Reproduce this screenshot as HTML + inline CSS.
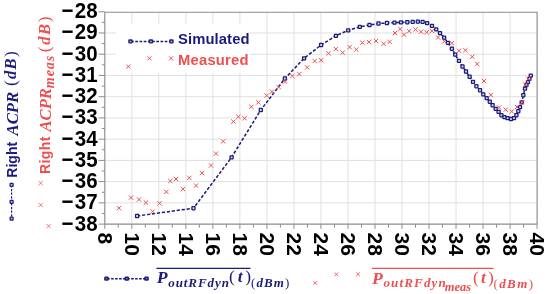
<!DOCTYPE html>
<html><head><meta charset="utf-8"><style>
html,body{margin:0;padding:0;background:#fff;width:550px;height:294px;overflow:hidden}
svg{display:block}
</style></head><body>
<svg width="550" height="294" viewBox="0 0 550 294">
<rect width="550" height="294" fill="#fff"/>
<path d="M131.82 12.2V224.10M158.84 12.2V224.10M185.86 12.2V224.10M212.88 12.2V224.10M239.89 12.2V224.10M266.91 12.2V224.10M293.93 12.2V224.10M320.95 12.2V224.10M347.97 12.2V224.10M374.99 12.2V224.10M402.01 12.2V224.10M429.03 12.2V224.10M456.04 12.2V224.10M483.06 12.2V224.10M510.08 12.2V224.10M104.80 32.98H537.10M104.80 54.22H537.10M104.80 75.45H537.10M104.80 96.69H537.10M104.80 117.92H537.10M104.80 139.16H537.10M104.80 160.40H537.10M104.80 181.63H537.10M104.80 202.86H537.10" stroke="#e0e0e0" stroke-width="1" fill="none"/>
<path d="M104.80 224.10v4.8M118.31 224.10v3.5M131.82 224.10v4.8M145.33 224.10v3.5M158.84 224.10v4.8M172.35 224.10v3.5M185.86 224.10v4.8M199.37 224.10v3.5M212.88 224.10v4.8M226.38 224.10v3.5M239.89 224.10v4.8M253.40 224.10v3.5M266.91 224.10v4.8M280.42 224.10v3.5M293.93 224.10v4.8M307.44 224.10v3.5M320.95 224.10v4.8M334.46 224.10v3.5M347.97 224.10v4.8M361.48 224.10v3.5M374.99 224.10v4.8M388.50 224.10v3.5M402.01 224.10v4.8M415.52 224.10v3.5M429.03 224.10v4.8M442.53 224.10v3.5M456.04 224.10v4.8M469.55 224.10v3.5M483.06 224.10v4.8M496.57 224.10v3.5M510.08 224.10v4.8M523.59 224.10v3.5M537.10 224.10v4.8M104.80 11.75h-6.2M104.80 22.37h-3M104.80 32.98h-6.2M104.80 43.60h-3M104.80 54.22h-6.2M104.80 64.84h-3M104.80 75.45h-6.2M104.80 86.07h-3M104.80 96.69h-6.2M104.80 107.31h-3M104.80 117.92h-6.2M104.80 128.54h-3M104.80 139.16h-6.2M104.80 149.78h-3M104.80 160.40h-6.2M104.80 171.01h-3M104.80 181.63h-6.2M104.80 192.25h-3M104.80 202.86h-6.2M104.80 213.48h-3M104.80 224.10h-6.2" stroke="#8c8c8c" stroke-width="1" fill="none"/>
<path d="M104.80 12.20H537.10V224.10" stroke="#8c8c8c" stroke-width="1.15" fill="none"/>
<path d="M104.80 12.20V224.10H537.10" stroke="#8c8c8c" stroke-width="1.15" fill="none"/>
<g font-family="Liberation Sans, Arial, sans-serif" font-weight="bold" font-size="20.5" fill="#000">
<text transform="translate(61.5 18.25) scale(1 1.1)">−<tspan dx="1.4">28</tspan></text>
<text transform="translate(61.5 39.48) scale(1 1.1)">−<tspan dx="1.4">29</tspan></text>
<text transform="translate(61.5 60.72) scale(1 1.1)">−<tspan dx="1.4">30</tspan></text>
<text transform="translate(61.5 81.95) scale(1 1.1)">−<tspan dx="1.4">31</tspan></text>
<text transform="translate(61.5 103.19) scale(1 1.1)">−<tspan dx="1.4">32</tspan></text>
<text transform="translate(61.5 124.42) scale(1 1.1)">−<tspan dx="1.4">33</tspan></text>
<text transform="translate(61.5 145.66) scale(1 1.1)">−<tspan dx="1.4">34</tspan></text>
<text transform="translate(61.5 166.90) scale(1 1.1)">−<tspan dx="1.4">35</tspan></text>
<text transform="translate(61.5 188.13) scale(1 1.1)">−<tspan dx="1.4">36</tspan></text>
<text transform="translate(61.5 209.36) scale(1 1.1)">−<tspan dx="1.4">37</tspan></text>
<text transform="translate(61.5 230.60) scale(1 1.1)">−<tspan dx="1.4">38</tspan></text>
</g>
<g font-family="Liberation Sans, Arial, sans-serif" font-weight="bold" font-size="21" fill="#000">
<text transform="translate(97.97 232.6) rotate(90)">8</text>
<text transform="translate(124.99 232.6) rotate(90)">10</text>
<text transform="translate(152.01 232.6) rotate(90)">12</text>
<text transform="translate(179.03 232.6) rotate(90)">14</text>
<text transform="translate(206.05 232.6) rotate(90)">16</text>
<text transform="translate(233.06 232.6) rotate(90)">18</text>
<text transform="translate(260.08 232.6) rotate(90)">20</text>
<text transform="translate(287.10 232.6) rotate(90)">22</text>
<text transform="translate(314.12 232.6) rotate(90)">24</text>
<text transform="translate(341.14 232.6) rotate(90)">26</text>
<text transform="translate(368.16 232.6) rotate(90)">28</text>
<text transform="translate(395.18 232.6) rotate(90)">30</text>
<text transform="translate(422.19 232.6) rotate(90)">32</text>
<text transform="translate(449.21 232.6) rotate(90)">34</text>
<text transform="translate(476.23 232.6) rotate(90)">36</text>
<text transform="translate(503.25 232.6) rotate(90)">38</text>
<text transform="translate(530.27 232.6) rotate(90)">40</text>
</g>
<polyline points="137.1,216.0 193.5,208.2 231.6,157.3 260.8,110.0 284.9,78.5 304.1,58.3 321.1,45.0 335.9,35.8 348.2,30.3 359.8,26.9 369.5,25.0 378.5,23.5 386.9,23.0 394.5,22.6 401.0,22.4 407.3,22.2 412.7,21.9 417.8,21.6 422.6,21.8 427.1,23.1 432.0,25.9 436.2,29.4 440.0,33.1 444.1,37.6 447.9,42.9 451.9,48.7 455.2,54.6 459.0,60.8 462.5,66.5 466.0,71.5 469.6,76.7 473.0,81.9 476.4,86.2 480.0,90.2 483.3,94.3 486.7,98.1 489.8,101.7 492.6,105.2 495.7,108.8 498.6,111.9 501.4,115.2 504.5,117.1 507.6,118.1 511.0,119.0 514.0,118.1 516.4,115.2 518.3,111.2 520.0,107.1 521.7,102.4 523.3,95.2 525.0,88.6 526.4,85.0 527.9,82.1 529.4,78.8 530.8,75.6" fill="none" stroke="#1b1b7c" stroke-width="1.5" stroke-dasharray="3.2 1.8"/>
<g fill="#d4d4ec" stroke="#1b1b7c" stroke-width="1.25">
<rect x="135.55" y="214.45" width="3.1" height="3.1" rx="0.4"/>
<rect x="191.95" y="206.65" width="3.1" height="3.1" rx="0.4"/>
<rect x="230.05" y="155.75" width="3.1" height="3.1" rx="0.4"/>
<rect x="259.25" y="108.45" width="3.1" height="3.1" rx="0.4"/>
<rect x="283.35" y="76.95" width="3.1" height="3.1" rx="0.4"/>
<rect x="302.55" y="56.75" width="3.1" height="3.1" rx="0.4"/>
<rect x="319.55" y="43.45" width="3.1" height="3.1" rx="0.4"/>
<rect x="334.35" y="34.25" width="3.1" height="3.1" rx="0.4"/>
<rect x="346.65" y="28.75" width="3.1" height="3.1" rx="0.4"/>
<rect x="358.25" y="25.35" width="3.1" height="3.1" rx="0.4"/>
<rect x="367.95" y="23.45" width="3.1" height="3.1" rx="0.4"/>
<rect x="376.95" y="21.95" width="3.1" height="3.1" rx="0.4"/>
<rect x="385.35" y="21.45" width="3.1" height="3.1" rx="0.4"/>
<rect x="392.95" y="21.05" width="3.1" height="3.1" rx="0.4"/>
<rect x="399.45" y="20.85" width="3.1" height="3.1" rx="0.4"/>
<rect x="405.75" y="20.65" width="3.1" height="3.1" rx="0.4"/>
<rect x="411.15" y="20.35" width="3.1" height="3.1" rx="0.4"/>
<rect x="416.25" y="20.05" width="3.1" height="3.1" rx="0.4"/>
<rect x="421.05" y="20.25" width="3.1" height="3.1" rx="0.4"/>
<rect x="425.55" y="21.55" width="3.1" height="3.1" rx="0.4"/>
<rect x="430.45" y="24.35" width="3.1" height="3.1" rx="0.4"/>
<rect x="434.65" y="27.85" width="3.1" height="3.1" rx="0.4"/>
<rect x="438.45" y="31.55" width="3.1" height="3.1" rx="0.4"/>
<rect x="442.55" y="36.05" width="3.1" height="3.1" rx="0.4"/>
<rect x="446.35" y="41.35" width="3.1" height="3.1" rx="0.4"/>
<rect x="450.35" y="47.15" width="3.1" height="3.1" rx="0.4"/>
<rect x="453.65" y="53.05" width="3.1" height="3.1" rx="0.4"/>
<rect x="457.45" y="59.25" width="3.1" height="3.1" rx="0.4"/>
<rect x="460.95" y="64.95" width="3.1" height="3.1" rx="0.4"/>
<rect x="464.45" y="69.95" width="3.1" height="3.1" rx="0.4"/>
<rect x="468.05" y="75.15" width="3.1" height="3.1" rx="0.4"/>
<rect x="471.45" y="80.35" width="3.1" height="3.1" rx="0.4"/>
<rect x="474.85" y="84.65" width="3.1" height="3.1" rx="0.4"/>
<rect x="478.45" y="88.65" width="3.1" height="3.1" rx="0.4"/>
<rect x="481.75" y="92.75" width="3.1" height="3.1" rx="0.4"/>
<rect x="485.15" y="96.55" width="3.1" height="3.1" rx="0.4"/>
<rect x="488.25" y="100.15" width="3.1" height="3.1" rx="0.4"/>
<rect x="491.05" y="103.65" width="3.1" height="3.1" rx="0.4"/>
<rect x="494.15" y="107.25" width="3.1" height="3.1" rx="0.4"/>
<rect x="497.05" y="110.35" width="3.1" height="3.1" rx="0.4"/>
<rect x="499.85" y="113.65" width="3.1" height="3.1" rx="0.4"/>
<rect x="502.95" y="115.55" width="3.1" height="3.1" rx="0.4"/>
<rect x="506.05" y="116.55" width="3.1" height="3.1" rx="0.4"/>
<rect x="509.45" y="117.45" width="3.1" height="3.1" rx="0.4"/>
<rect x="512.45" y="116.55" width="3.1" height="3.1" rx="0.4"/>
<rect x="514.85" y="113.65" width="3.1" height="3.1" rx="0.4"/>
<rect x="516.75" y="109.65" width="3.1" height="3.1" rx="0.4"/>
<rect x="518.45" y="105.55" width="3.1" height="3.1" rx="0.4"/>
<rect x="520.15" y="100.85" width="3.1" height="3.1" rx="0.4"/>
<rect x="521.75" y="93.65" width="3.1" height="3.1" rx="0.4"/>
<rect x="523.45" y="87.05" width="3.1" height="3.1" rx="0.4"/>
<rect x="524.85" y="83.45" width="3.1" height="3.1" rx="0.4"/>
<rect x="526.35" y="80.55" width="3.1" height="3.1" rx="0.4"/>
<rect x="527.85" y="77.25" width="3.1" height="3.1" rx="0.4"/>
<rect x="529.25" y="74.05" width="3.1" height="3.1" rx="0.4"/>
</g>
<path d="M116.8 206.0l4.3 4.3M116.8 210.3l4.3 -4.3M128.8 195.5l4.3 4.3M128.8 199.8l4.3 -4.3M136.8 197.3l4.3 4.3M136.8 201.7l4.3 -4.3M143.7 200.4l4.3 4.3M143.7 204.8l4.3 -4.3M150.5 209.3l4.3 4.3M150.5 213.7l4.3 -4.3M157.4 201.2l4.3 4.3M157.4 205.5l4.3 -4.3M164.2 189.7l4.3 4.3M164.2 194.0l4.3 -4.3M168.2 178.8l4.3 4.3M168.2 183.1l4.3 -4.3M173.8 176.8l4.3 4.3M173.8 181.2l4.3 -4.3M180.7 186.8l4.3 4.3M180.7 191.2l4.3 -4.3M187.2 175.7l4.3 4.3M187.2 180.0l4.3 -4.3M193.9 183.4l4.3 4.3M193.9 187.8l4.3 -4.3M199.8 170.9l4.3 4.3M199.8 175.2l4.3 -4.3M208.8 163.3l4.3 4.3M208.8 167.7l4.3 -4.3M213.8 151.5l4.3 4.3M213.8 155.8l4.3 -4.3M221.0 139.2l4.3 4.3M221.0 143.6l4.3 -4.3M231.2 119.4l4.3 4.3M231.2 123.8l4.3 -4.3M236.2 114.5l4.3 4.3M236.2 118.9l4.3 -4.3M242.4 116.1l4.3 4.3M242.4 120.5l4.3 -4.3M249.2 104.6l4.3 4.3M249.2 109.0l4.3 -4.3M256.1 100.2l4.3 4.3M256.1 104.6l4.3 -4.3M264.5 93.4l4.3 4.3M264.5 97.8l4.3 -4.3M269.8 89.5l4.3 4.3M269.8 93.9l4.3 -4.3M276.5 84.9l4.3 4.3M276.5 89.2l4.3 -4.3M282.9 79.4l4.3 4.3M282.9 83.8l4.3 -4.3M290.2 73.9l4.3 4.3M290.2 78.2l4.3 -4.3M297.1 71.8l4.3 4.3M297.1 76.2l4.3 -4.3M305.0 65.2l4.3 4.3M305.0 69.6l4.3 -4.3M312.6 58.9l4.3 4.3M312.6 63.1l4.3 -4.3M319.0 58.1l4.3 4.3M319.0 62.4l4.3 -4.3M326.4 51.2l4.3 4.3M326.4 55.5l4.3 -4.3M333.8 46.9l4.3 4.3M333.8 51.1l4.3 -4.3M340.5 50.5l4.3 4.3M340.5 54.8l4.3 -4.3M347.5 45.0l4.3 4.3M347.5 49.2l4.3 -4.3M354.2 47.4l4.3 4.3M354.2 51.6l4.3 -4.3M360.2 40.6l4.3 4.3M360.2 44.9l4.3 -4.3M366.8 39.9l4.3 4.3M366.8 44.1l4.3 -4.3M373.9 38.9l4.3 4.3M373.9 43.1l4.3 -4.3M381.5 41.6l4.3 4.3M381.5 45.9l4.3 -4.3M387.5 39.8l4.3 4.3M387.5 44.0l4.3 -4.3M392.9 30.9l4.3 4.3M392.9 35.1l4.3 -4.3M398.2 26.9l4.3 4.3M398.2 31.1l4.3 -4.3M401.9 32.5l4.3 4.3M401.9 36.8l4.3 -4.3M407.1 29.0l4.3 4.3M407.1 33.2l4.3 -4.3M413.4 27.4l4.3 4.3M413.4 31.6l4.3 -4.3M418.9 29.6l4.3 4.3M418.9 33.9l4.3 -4.3M424.5 30.1l4.3 4.3M424.5 34.4l4.3 -4.3M429.9 28.8l4.3 4.3M429.9 33.0l4.3 -4.3M436.0 35.4l4.3 4.3M436.0 39.6l4.3 -4.3M442.1 39.2l4.3 4.3M442.1 43.5l4.3 -4.3M449.7 41.1l4.3 4.3M449.7 45.4l4.3 -4.3M456.9 48.6l4.3 4.3M456.9 52.9l4.3 -4.3M463.2 48.1l4.3 4.3M463.2 52.4l4.3 -4.3M470.1 54.6l4.3 4.3M470.1 58.9l4.3 -4.3M475.1 61.9l4.3 4.3M475.1 66.2l4.3 -4.3M481.8 78.8l4.3 4.3M481.8 83.2l4.3 -4.3M488.6 92.8l4.3 4.3M488.6 97.2l4.3 -4.3M496.9 105.3l4.3 4.3M496.9 109.7l4.3 -4.3M503.5 107.5l4.3 4.3M503.5 111.9l4.3 -4.3M509.6 109.2l4.3 4.3M509.6 113.6l4.3 -4.3M514.8 104.9l4.3 4.3M514.8 109.2l4.3 -4.3M520.1 100.0l4.3 4.3M520.1 104.4l4.3 -4.3M523.1 82.3l4.3 4.3M523.1 86.7l4.3 -4.3M526.1 76.5l4.3 4.3M526.1 80.9l4.3 -4.3" stroke="#ef4f4f" stroke-width="1.0" fill="none"/>
<rect x="116" y="24" width="134" height="49" fill="#fff"/>
<path d="M130.5 41.4H171.4" stroke="#1b1b7c" stroke-width="1.5" stroke-dasharray="2.7 1.5" stroke-dashoffset="-0.6"/>
<g fill="#a8a8d4" stroke="#1b1b7c" stroke-width="1.35">
<rect x="128.9" y="40.0" width="3.2" height="2.8" rx="0.6"/>
<rect x="149.3" y="40.0" width="3.2" height="2.8" rx="0.6"/>
<rect x="169.8" y="40.0" width="3.2" height="2.8" rx="0.6"/>
</g>
<path d="M126.3 64.5l4.0 4.0M126.3 68.5l4.0 -4.0M147.5 56.3l4.0 4.0M147.5 60.3l4.0 -4.0M169.1 56.3l4.0 4.0M169.1 60.3l4.0 -4.0" stroke="#ef4f4f" stroke-width="1" fill="none"/>
<text transform="translate(17.25 177.80) rotate(-90)" font-family="Liberation Sans, Arial, sans-serif" font-weight="bold" font-size="14" fill="#1b1b7c" textLength="36.10" lengthAdjust="spacing">Right</text>
<text transform="translate(18.30 135.50) rotate(-90)" font-family="Liberation Serif, Times New Roman, serif" font-weight="bold" font-style="italic" font-size="17.2" fill="#1b1b7c" textLength="43.70" lengthAdjust="spacingAndGlyphs">ACPR</text>
<text transform="translate(16.05 86.10) rotate(-90)" font-family="Liberation Serif, Times New Roman, serif" font-weight="bold" font-style="italic" font-size="16.5" fill="#1b1b7c" textLength="34.90" lengthAdjust="spacing"><tspan font-size="17.5" font-style="normal" font-weight="normal">(</tspan>dB<tspan font-size="17.5" font-style="normal" font-weight="normal">)</tspan></text>
<text transform="translate(49.85 174.10) rotate(-90)" font-family="Liberation Sans, Arial, sans-serif" font-weight="bold" font-size="14" fill="#ef4f4f" textLength="37.50" lengthAdjust="spacing">Right</text>
<text transform="translate(50.60 131.50) rotate(-90)" font-family="Liberation Serif, Times New Roman, serif" font-weight="bold" font-style="italic" font-size="17.2" fill="#ef4f4f" textLength="43.40" lengthAdjust="spacingAndGlyphs">ACPR</text>
<text transform="translate(53.95 88.20) rotate(-90)" font-family="Liberation Serif, Times New Roman, serif" font-weight="bold" font-style="italic" font-size="14" fill="#ef4f4f" textLength="32.50" lengthAdjust="spacing">meas</text>
<text transform="translate(49.70 52.30) rotate(-90)" font-family="Liberation Serif, Times New Roman, serif" font-weight="bold" font-style="italic" font-size="16.5" fill="#ef4f4f" textLength="35.90" lengthAdjust="spacing"><tspan font-size="17.5" font-style="normal" font-weight="normal">(</tspan>dB<tspan font-size="17.5" font-style="normal" font-weight="normal">)</tspan></text>
<path d="M11.6 184.8V218.7" stroke="#1b1b7c" stroke-width="1.2" stroke-dasharray="2.2 1.4" stroke-dashoffset="-0.6"/>
<g fill="#b8b8dc" stroke="#1b1b7c" stroke-width="1.25">
<rect x="10.1" y="183.3" width="3.0" height="3.0" rx="0.6"/>
<rect x="10.1" y="200.4" width="3.0" height="3.0" rx="0.6"/>
<rect x="10.1" y="217.2" width="3.0" height="3.0" rx="0.6"/>
</g>
<path d="M38.6 181.0l4.2 4.2M38.6 185.2l4.2 -4.2M38.6 202.9l4.2 4.2M38.6 207.1l4.2 -4.2M46.5 224.0l4.2 4.2M46.5 228.2l4.2 -4.2" stroke="#ef4f4f" stroke-width="0.9" fill="none" opacity="0.85"/>
<path d="M106.5 278.7H146.5" stroke="#1b1b7c" stroke-width="1.5" stroke-dasharray="2.6 1.4" stroke-dashoffset="-0.6"/>
<g fill="#7878b4" stroke="#1b1b7c" stroke-width="1.5">
<rect x="104.9" y="277.3" width="3.2" height="2.8" rx="0.6"/>
<rect x="125.2" y="277.3" width="3.2" height="2.8" rx="0.6"/>
<rect x="144.9" y="277.3" width="3.2" height="2.8" rx="0.6"/>
</g>
<path d="M156.4 268.3H250.5" stroke="#1b1b7c" stroke-width="1.2"/>
<text x="178.00" y="44.05" font-family="Liberation Sans, Arial, sans-serif" font-weight="bold" font-size="14.8" fill="#1b1b7c" textLength="71.50" lengthAdjust="spacing">Simulated</text>
<text x="178.00" y="64.90" font-family="Liberation Sans, Arial, sans-serif" font-weight="bold" font-size="14.8" fill="#ef4f4f" textLength="70.50" lengthAdjust="spacing">Measured</text>
<text x="156.80" y="282.90" font-family="Liberation Serif, Times New Roman, serif" font-weight="bold" font-style="italic" font-size="17.7" fill="#1b1b7c">P</text>
<text x="168.20" y="287.10" font-family="Liberation Serif, Times New Roman, serif" font-weight="bold" font-style="italic" font-size="13" fill="#1b1b7c" textLength="60.70" lengthAdjust="spacing">outRFdyn</text>
<text x="229.10" y="281.85" font-family="Liberation Serif, Times New Roman, serif" font-weight="bold" font-style="italic" font-size="17.5" fill="#1b1b7c" textLength="22.00" lengthAdjust="spacing"><tspan font-size="17.5" font-style="normal" font-weight="normal">(</tspan>t<tspan font-size="17.5" font-style="normal" font-weight="normal">)</tspan></text>
<text x="251.10" y="287.00" font-family="Liberation Serif, Times New Roman, serif" font-weight="bold" font-style="italic" font-size="13" fill="#1b1b7c" textLength="38.20" lengthAdjust="spacing"><tspan font-size="13" font-style="normal" font-weight="normal">(</tspan>dBm<tspan font-size="13" font-style="normal" font-weight="normal">)</tspan></text>
<path d="M313.4 281.2l3.6 3.6M313.4 284.8l3.6 -3.6M334.6 272.5l3.6 3.6M334.6 276.1l3.6 -3.6M356.2 272.5l3.6 3.6M356.2 276.1l3.6 -3.6" stroke="#ef4f4f" stroke-width="0.9" fill="none"/>
<path d="M372 268.3H493.7" stroke="#ef4f4f" stroke-width="1.2"/>
<text x="372.00" y="283.65" font-family="Liberation Serif, Times New Roman, serif" font-weight="bold" font-style="italic" font-size="17.7" fill="#ef4f4f">P</text>
<text x="383.40" y="287.10" font-family="Liberation Serif, Times New Roman, serif" font-weight="bold" font-style="italic" font-size="13" fill="#ef4f4f" textLength="62.30" lengthAdjust="spacing">outRFdyn</text>
<text x="444.80" y="290.60" font-family="Liberation Serif, Times New Roman, serif" font-weight="bold" font-style="italic" font-size="11.5" fill="#ef4f4f" textLength="26.40" lengthAdjust="spacingAndGlyphs">meas</text>
<text x="473.10" y="282.50" font-family="Liberation Serif, Times New Roman, serif" font-weight="bold" font-style="italic" font-size="17.5" fill="#ef4f4f" textLength="20.70" lengthAdjust="spacing"><tspan font-size="17.5" font-style="normal" font-weight="normal">(</tspan>t<tspan font-size="17.5" font-style="normal" font-weight="normal">)</tspan></text>
<text x="493.40" y="287.50" font-family="Liberation Serif, Times New Roman, serif" font-weight="bold" font-style="italic" font-size="13" fill="#ef4f4f" textLength="39.60" lengthAdjust="spacing"><tspan font-size="13" font-style="normal" font-weight="normal">(</tspan>dBm<tspan font-size="13" font-style="normal" font-weight="normal">)</tspan></text>
</svg>
</body></html>
